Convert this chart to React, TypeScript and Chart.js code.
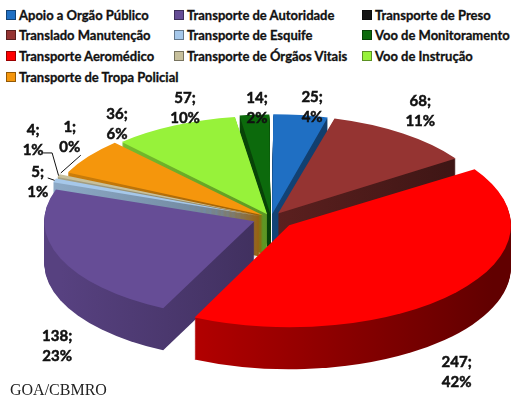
import React, { useEffect, useRef } from 'react';
import { Chart, registerables } from 'chart.js';

Chart.register(...registerables);

// ---- data ----
const categories = [
  'Apoio a Orgão Público',
  'Translado Manutenção',
  'Transporte Aeromédico',
  'Transporte de Autoridade',
  'Transporte de Esquife',
  'Transporte de Órgãos Vitais',
  'Transporte de Preso',
  'Transporte de Tropa Policial',
  'Voo de Instrução',
  'Voo de Monitoramento',
];
const values = [25, 68, 247, 138, 5, 4, 1, 36, 57, 14];
const legendOrder = [0, 3, 6, 1, 4, 9, 2, 5, 8, 7];
const footerText = 'GOA/CBMRO';

// ---- styles ----
const colors = ['#1f6fc3', '#953432', '#ff0000', '#664d96', '#a6c8ea', '#c7c09c', '#151515', '#f5960c', '#97f23a', '#0c6a0c'];
const offsets = [36, 48, 96, 72, 44, 44, 44, 40, 36, 32];
const labelNudge: number[][] = [[9, 1], [5, -14], [-10, 34], [20, 42], [-3, 4], [-12, -33], [22, -33], [44, -27], [20, -9], [4, 2]];
const leaderPts: Record<number, number[][]> = { 4: [[10, -4]], 5: [[10, 13], [19, 13]], 6: [[11, 18]] };
const RADIUS = 210;
const K = 0.46;
const DEPTH = 42;
const FONT = 'Lato, "Open Sans", "DejaVu Sans", sans-serif';

function shade(hex: string, f: number) {
  const n = parseInt(hex.slice(1), 16);
  const r = Math.round(((n >> 16) & 255) * f);
  const g = Math.round(((n >> 8) & 255) * f);
  const b = Math.round((n & 255) * f);
  return `rgb(${r},${g},${b})`;
}

function arcGeom(a: any) {
  const off = (a.options.offset || 0) / 4;
  const mid = (a.startAngle + a.endAngle) / 2;
  const fix = 1 - Math.sin(Math.min(Math.PI, a.circumference || 0));
  const ro = off * fix;
  const R = a.outerRadius + ro;
  const alpha = a.endAngle - a.startAngle;
  const beta = Math.max(0.001, alpha * R - ro / Math.PI) / R;
  const ao = (alpha - beta) / 2;
  return {
    x: a.x + Math.cos(mid) * off,
    y: a.y + Math.sin(mid) * off,
    R,
    start: a.startAngle + ao,
    end: a.endAngle - ao,
    mid,
    off,
  };
}

const pie3d = {
  id: 'pie3d',
  beforeDatasetsDraw(chart: any) {
    const arcs = chart.getDatasetMeta(0).data as any[];
    const ctx = chart.ctx as CanvasRenderingContext2D;
    const cx = arcs[0].x;
    const cy = arcs[0].y;
    ctx.save();
    ctx.translate(cx, cy);
    ctx.scale(1, K);
    ctx.translate(-cx, -cy);
    const geoms = arcs.map(arcGeom);
    const grads = geoms.map((g, i) => {
      const gr = ctx.createLinearGradient(cx - g.R, 0, cx + g.R, 0);
      gr.addColorStop(0, shade(colors[i], 0.85));
      gr.addColorStop(1, shade(colors[i], 0.38));
      return gr;
    });
    for (let d = DEPTH; d >= 1; d--) {
      geoms.forEach((g, i) => {
        const y = g.y + d / K;
        ctx.beginPath();
        ctx.moveTo(g.x, y);
        ctx.arc(g.x, y, g.R, g.start, g.end);
        ctx.closePath();
        ctx.fillStyle = grads[i];
        ctx.fill();
      });
    }
  },
  afterDatasetsDraw(chart: any) {
    const ctx = chart.ctx as CanvasRenderingContext2D;
    ctx.restore();
    const arcs = chart.getDatasetMeta(0).data as any[];
    const cy = arcs[0].y;
    const total = values.reduce((s, v) => s + v, 0);
    const proj = (x: number, y: number) => [x, cy + (y - cy) * K];
    ctx.save();
    ctx.fillStyle = '#111';
    ctx.strokeStyle = '#111';
    ctx.font = `bold 15px ${FONT}`;
    ctx.textAlign = 'center';
    ctx.textBaseline = 'middle';
    arcs.forEach((a, i) => {
      const g = arcGeom(a);
      const rr = a.outerRadius * 1.12 + g.off;
      let [sx, sy] = proj(a.x + Math.cos(g.mid) * rr, a.y + Math.sin(g.mid) * rr);
      if (Math.sin(g.mid) > 0) sy += DEPTH;
      sx += labelNudge[i][0];
      sy += labelNudge[i][1];
      const pct = Math.round((values[i] / total) * 100);
      const lines = [`${values[i]};`, `${pct}%`];
      lines.forEach((t, k) => {
        const ty = sy + (k === 0 ? -10 : 10);
        ctx.lineWidth = 0.5;
        ctx.strokeText(t, sx, ty);
        ctx.fillText(t, sx, ty);
      });
      const lp = leaderPts[i];
      if (lp) {
        const [ex, ey] = proj(g.x + Math.cos(g.mid) * g.R, g.y + Math.sin(g.mid) * g.R);
        ctx.lineWidth = 1;
        ctx.beginPath();
        ctx.moveTo(sx + lp[0][0], sy + lp[0][1]);
        for (let k = 1; k < lp.length; k++) ctx.lineTo(sx + lp[k][0], sy + lp[k][1]);
        ctx.lineTo(ex, ey);
        ctx.stroke();
      }
    });
    ctx.restore();
  },
};

export default function App() {
  const ref = useRef<HTMLCanvasElement>(null);
  useEffect(() => {
    if (!ref.current) return;
    const chart = new Chart(ref.current, {
      type: 'pie',
      data: {
        labels: categories,
        datasets: [
          {
            data: values,
            backgroundColor: colors,
            borderWidth: 0,
            offset: offsets,
            radius: RADIUS,
            clip: false,
          } as any,
        ],
      },
      options: {
        animation: false,
        responsive: false,
        events: [],
        layout: { padding: { left: 10, right: 0, top: 32, bottom: 0 } },
        plugins: { legend: { display: false }, tooltip: { enabled: false } },
      },
      plugins: [pie3d as any],
    });
    return () => chart.destroy();
  }, []);

  const colLeft = [6, 174, 362];
  return (
    <div style={{ position: 'fixed', left: 0, top: 0, width: 532, height: 404, background: '#fff', overflow: 'hidden' }}>
      {legendOrder.map((idx, k) => {
        const row = Math.floor(k / 3);
        const col = k % 3;
        return (
          <div
            key={idx}
            style={{
              position: 'absolute',
              left: colLeft[col],
              top: 14.5 + row * 20.8 - 9,
              height: 18,
              display: 'flex',
              alignItems: 'center',
              whiteSpace: 'nowrap',
              font: `bold 13px ${FONT}`,
              color: '#111',
              WebkitTextStroke: '0.3px #111',
            }}
          >
            <span
              style={{
                display: 'inline-block',
                width: 8,
                height: 8,
                background: colors[idx],
                border: `1px solid ${shade(colors[idx], 0.6)}`,
                marginRight: 3,
                WebkitTextStroke: '0',
              }}
            />
            {categories[idx]}
          </div>
        );
      })}
      <canvas ref={ref} width={532} height={404} style={{ position: 'absolute', left: 0, top: 0, width: 532, height: 404 }} />
      <div
        style={{
          position: 'absolute',
          left: 10,
          top: 380,
          font: '16px "Liberation Serif", "Times New Roman", serif',
          color: '#222',
          lineHeight: '20px',
        }}
      >
        {footerText}
      </div>
    </div>
  );
}
